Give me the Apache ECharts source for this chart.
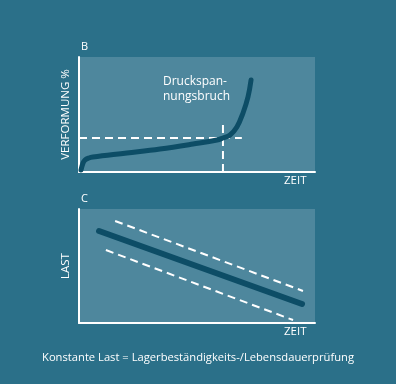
<!DOCTYPE html>
<html><head><meta charset="utf-8">
<script src="https://cdn.jsdelivr.net/npm/echarts@6/dist/echarts.min.js"></script>
<style>html,body{margin:0;padding:0;background:#2b7089;}#c{width:396px;height:384px;}</style>
</head><body><div id="c"></div>
<script>
// Panel B: deformation vs time (creep curve), arbitrary units 0-100
const creepCurve = [[0.85,1.7],[1.7,7.8],[2.5,10.4],[4.2,12.2],[5.9,13.0],[20.3,16.5],[34.3,20.0],[48.3,24.3],[58.5,27.8],[61.0,29.6],[64.0,32.2],[66.9,39.1],[69.5,51.3],[71.6,65.2],[72.9,80.0]];
const ruptureH = [[0,29.6],[69,29.6]];
const ruptureV = [[61,0],[61,42.6]];
// Panel C: load vs time
const loadLine = [[8.5,80.7],[94.5,16.7]];
const loadUpper = [[15.3,89.5],[94.9,28.1]];
const loadLower = [[11.4,64.0],[90.7,2.6]];
const texts = {b:'B', c:'C', yB:'VERFORMUNG %', yC:'LAST', x:'ZEIT', note:'Druckspan-\nnungsbruch', caption:'Konstante Last = Lagerbeständigkeits-/Lebensdauerprüfung'};

const FONT = '"Open Sans", sans-serif';
const white = '#ffffff';
const dark = '#0d4d66';
const chart = echarts.init(document.getElementById('c'));
const axisLine = {show:true, lineStyle:{color:white, width:2}};
function xa(i){return {type:'value', gridIndex:i, min:0, max:100, axisLine:axisLine, axisTick:{show:false}, axisLabel:{show:false}, splitLine:{show:false}};}
function ya(i,name){return {type:'value', gridIndex:i, min:0, max:100, axisLine:axisLine, axisTick:{show:false}, axisLabel:{show:false}, splitLine:{show:false},
  name:name, nameLocation:'middle', nameGap:7, nameTextStyle:{color:white, fontSize:11.5, fontFamily:FONT}};}
const dash = {color:white, width:2, type:[8,5]};
chart.setOption({
  backgroundColor:'#2b7089',
  animation:false,
  grid:[
    {left:79, top:57, width:236, height:115, show:true, backgroundColor:'#4e879d', borderWidth:0},
    {left:79, top:209, width:236, height:114, show:true, backgroundColor:'#4e879d', borderWidth:0}
  ],
  xAxis:[xa(0), xa(1)],
  yAxis:[ya(0,texts.yB), ya(1,texts.yC)],
  series:[
    {type:'line', xAxisIndex:0, yAxisIndex:0, data:ruptureH, symbol:'none', lineStyle:dash, z:2},
    {type:'line', xAxisIndex:0, yAxisIndex:0, data:ruptureV, symbol:'none', lineStyle:dash, z:2},
    {type:'line', xAxisIndex:0, yAxisIndex:0, data:creepCurve, symbol:'none', smooth:0.4, lineStyle:{color:dark, width:5, cap:'round'}, z:3},
    {type:'line', xAxisIndex:1, yAxisIndex:1, data:loadUpper, symbol:'none', lineStyle:dash},
    {type:'line', xAxisIndex:1, yAxisIndex:1, data:loadLower, symbol:'none', lineStyle:dash},
    {type:'line', xAxisIndex:1, yAxisIndex:1, data:loadLine, symbol:'none', lineStyle:{color:dark, width:6, cap:'round'}}
  ],
  graphic:[
    {type:'text', left:81, top:41, style:{text:texts.b, fill:white, font:'11px '+FONT}},
    {type:'text', left:81, top:193, style:{text:texts.c, fill:white, font:'11px '+FONT}},
    {type:'text', left:284, top:175, style:{text:texts.x, fill:white, font:'11.5px '+FONT}},
    {type:'text', left:284, top:326, style:{text:texts.x, fill:white, font:'11.5px '+FONT}},
    {type:'text', left:163, top:74, style:{text:texts.note, fill:white, font:'12px '+FONT, lineHeight:15}},
    {type:'text', left:'center', top:352, style:{text:texts.caption, fill:white, font:'11.2px '+FONT}}
  ]
});
</script></body></html>
